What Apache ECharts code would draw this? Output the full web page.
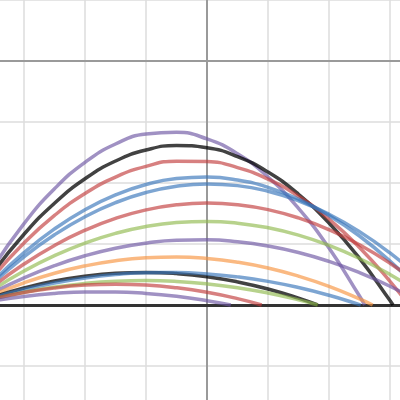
<!DOCTYPE html>
<html>
<head>
<meta charset="utf-8">
<script src="https://cdn.jsdelivr.net/npm/echarts@6/dist/echarts.min.js"></script>
<style>
html,body{margin:0;padding:0;background:#fff;overflow:hidden;width:400px;height:400px;}
#wrap{position:relative;width:400px;height:400px;overflow:hidden;}
#chart{position:absolute;left:-36.7px;top:-60.7px;width:488px;height:488px;}
</style>
</head>
<body>
<div id="wrap"><div id="chart"></div></div>
<script>
// sample x positions (shared by all curves)
const xs = [-3.5, -3, -2.5, -2, -1.5, -1, -0.5, 0, 0.5, 1, 1.5, 2, 2.5, 3, 3.5];

// heights at each x (curves end where they hit the ground)
const purpleTop = [0.628,1.334,1.905,2.339,2.639,2.802,2.830,2.722,2.479,2.099,1.584,0.934,0.147];
const blackTop  = [0.542,1.160,1.669,2.069,2.360,2.541,2.614,2.578,2.433,2.179,1.816,1.344,0.764,0.073];
const redHigh   = [0.474,1.017,1.468,1.828,2.096,2.273,2.358,2.351,2.253,2.063,1.782,1.409,0.944,0.388];
const blueHighA = [0.399,0.859,1.247,1.562,1.805,1.975,2.072,2.097,2.049,1.929,1.735,1.469,1.131,0.720,0.236];
const blueHighB = [0.366,0.791,1.151,1.447,1.678,1.844,1.946,1.984,1.957,1.865,1.709,1.488,1.203,0.853,0.438];
const redMid    = [0.311,0.671,0.976,1.226,1.420,1.559,1.643,1.672,1.645,1.564,1.427,1.234,0.987,0.684,0.326];
const greenMid  = [0.258,0.557,0.809,1.015,1.174,1.286,1.351,1.370,1.342,1.267,1.146,0.977,0.763,0.501,0.193];
const purpleMid = [0.207,0.445,0.645,0.807,0.930,1.014,1.061,1.068,1.037,0.968,0.861,0.715,0.530,0.307,0.045];
const orangeMid = [0.171,0.364,0.521,0.641,0.726,0.774,0.787,0.763,0.702,0.606,0.473,0.305,0.100];
const blackLow  = [0.133,0.279,0.392,0.472,0.520,0.534,0.515,0.464,0.379,0.262,0.112];
const blueLow   = [0.119,0.253,0.361,0.443,0.499,0.529,0.532,0.510,0.461,0.387,0.286,0.159,0.007];
const greenLow  = [0.100,0.209,0.294,0.354,0.389,0.400,0.386,0.347,0.284,0.196,0.084];
const redLow    = [0.100,0.205,0.280,0.326,0.341,0.327,0.282,0.208,0.104];
const purpleLow = [0.070,0.141,0.188,0.212,0.212,0.189,0.142,0.071];

// landing x of each curve (ground y = 0)
const landings = [2.585, 3.049, 3.308, 3.72, 3.96, 3.90, 3.78, 3.58, 2.716, 1.815, 2.52, 1.815, 0.897, 0.39];

const curves = [purpleTop, blackTop, redHigh, blueHighA, blueHighB, redMid, greenMid, purpleMid,
                orangeMid, blackLow, blueLow, greenLow, redLow, purpleLow];

const RED = 'rgba(193,60,60,0.65)', BLUE = 'rgba(55,117,186,0.65)', GREEN = 'rgba(144,186,78,0.65)',
      PURPLE = 'rgba(109,86,163,0.65)', ORANGE = 'rgba(247,147,63,0.65)', BLACK = 'rgba(0,0,0,0.74)';
const colors = [PURPLE, BLACK, RED, BLUE, BLUE, RED, GREEN, PURPLE, ORANGE, BLACK, BLUE, GREEN, RED, PURPLE];

const series = curves.map((ys, i) => {
  const data = ys.map((y, j) => [xs[j], y]);
  data.push([landings[i], 0]);
  return {
    type: 'line',
    data: data,
    smooth: true,
    showSymbol: false,
    clip: true,
    silent: true,
    lineStyle: { width: 3.5, color: colors[i] },
    itemStyle: { color: colors[i] },
    z: 3
  };
});

// darker horizontal gridline at y = 4
series.push({
  type: 'line', data: [], silent: true, z: 1,
  markLine: {
    silent: true, symbol: ['none','none'], label: { show: false },
    lineStyle: { color: '#9a9a9a', width: 2, type: 'solid' },
    data: [{ yAxis: 4 }]
  }
});

const chart = echarts.init(document.getElementById('chart'), null, { renderer: 'canvas' });
chart.setOption({
  animation: false,
  backgroundColor: '#ffffff',
  grid: { left: 0, right: 0, top: 0, bottom: 0, containLabel: false },
  xAxis: {
    type: 'value', min: -4, max: 4, interval: 1,
    axisLine: { show: true, onZero: true, lineStyle: { color: '#333333', width: 3 } },
    axisTick: { show: false }, axisLabel: { show: false },
    splitLine: { show: true, lineStyle: { color: '#dcdcdc', width: 1.5 } }
  },
  yAxis: {
    type: 'value', min: -2, max: 6, interval: 1,
    axisLine: { show: true, onZero: true, lineStyle: { color: '#9a9a9a', width: 2 } },
    axisTick: { show: false }, axisLabel: { show: false },
    splitLine: { show: true, lineStyle: { color: '#dcdcdc', width: 1.5 } }
  },
  series: series
});
</script>
</body>
</html>
